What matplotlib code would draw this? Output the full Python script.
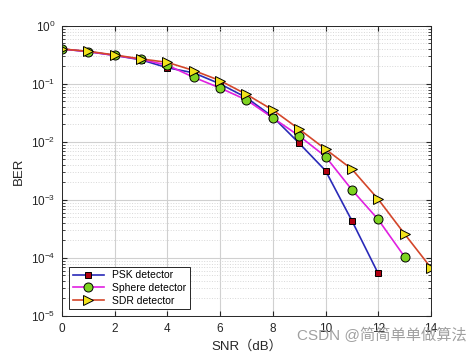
import numpy as np
import matplotlib
matplotlib.use('Agg')
import matplotlib.pyplot as plt

plt.rcParams['font.family'] = ['Liberation Sans', 'Noto Sans CJK SC', 'DejaVu Sans']

snr_psk = [0, 1, 2, 3, 4, 5, 6, 7, 8, 9, 10, 11, 12]
ber_psk = [0.40, 0.36, 0.31, 0.26, 0.19, 0.155, 0.10, 0.058, 0.027, 0.0095, 0.0032, 0.00044, 0.000054]

snr_sphere = [0, 1, 2, 3, 4, 5, 6, 7, 8, 9, 10, 11, 12, 13]
ber_sphere = [0.40, 0.36, 0.31, 0.265, 0.21, 0.13, 0.085, 0.053, 0.026, 0.0127, 0.0056, 0.0015, 0.00046, 0.000105]

snr_sdr = [0, 1, 2, 3, 4, 5, 6, 7, 8, 9, 10, 11, 12, 13, 14]
ber_sdr = [0.40, 0.365, 0.315, 0.27, 0.235, 0.17, 0.114, 0.066, 0.0355, 0.0166, 0.0075, 0.0034, 0.00103, 0.00026, 0.000068]

fig = plt.figure(figsize=(4.74, 3.55), dpi=100)
ax = fig.add_axes([0.131, 0.110, 0.778, 0.817])

ax.semilogy(snr_psk, ber_psk, '-s', color='#2a2ab8', mfc='#b00010', mec='k',
            ms=5, lw=1.2, mew=0.7, label='PSK detector')
ax.semilogy(snr_sphere, ber_sphere, '-o', color='#e020e0', mfc='#7ed321', mec='k',
            ms=6.5, lw=1.2, mew=0.7, label='Sphere detector')
ax.semilogy(snr_sdr, ber_sdr, '->', color='#d4462a', mfc='#f2e21a', mec='k',
            ms=7, lw=1.2, mew=0.7, label='SDR detector')

ax.set_xlim(0, 14)
ax.set_ylim(1e-5, 1)
ax.set_xticks(range(0, 15, 2))
ax.grid(True, which='major', color='#d0d0d0', lw=0.8)
ax.grid(True, which='minor', color='#d8d8d8', ls=':', lw=0.7)
ax.tick_params(which='both', direction='in', top=True, right=True, labelsize=8.5,
               colors='#262626', pad=5)
for s in ax.spines.values():
    s.set_color('#262626')
    s.set_linewidth(0.7)

ax.set_xlabel('SNR（dB）', fontsize=9.5, color='#262626',
              family=['Liberation Sans', 'Noto Sans CJK SC'])
ax.set_ylabel('BER', fontsize=9.5, color='#262626')

leg = ax.legend(loc='lower left', fontsize=7.5, fancybox=False, edgecolor='#262626',
                framealpha=1, borderpad=0.35, labelspacing=0.25, handlelength=3.0,
                bbox_to_anchor=(0.005, 0.005))
leg.get_frame().set_linewidth(0.7)

fig.text(0.985, 0.035, 'CSDN @简简单单做算法', ha='right', va='bottom', fontsize=11,
         color='#a0a0a0', family=['Liberation Sans', 'Noto Sans CJK SC'])

fig.savefig('out.png', dpi=100)
